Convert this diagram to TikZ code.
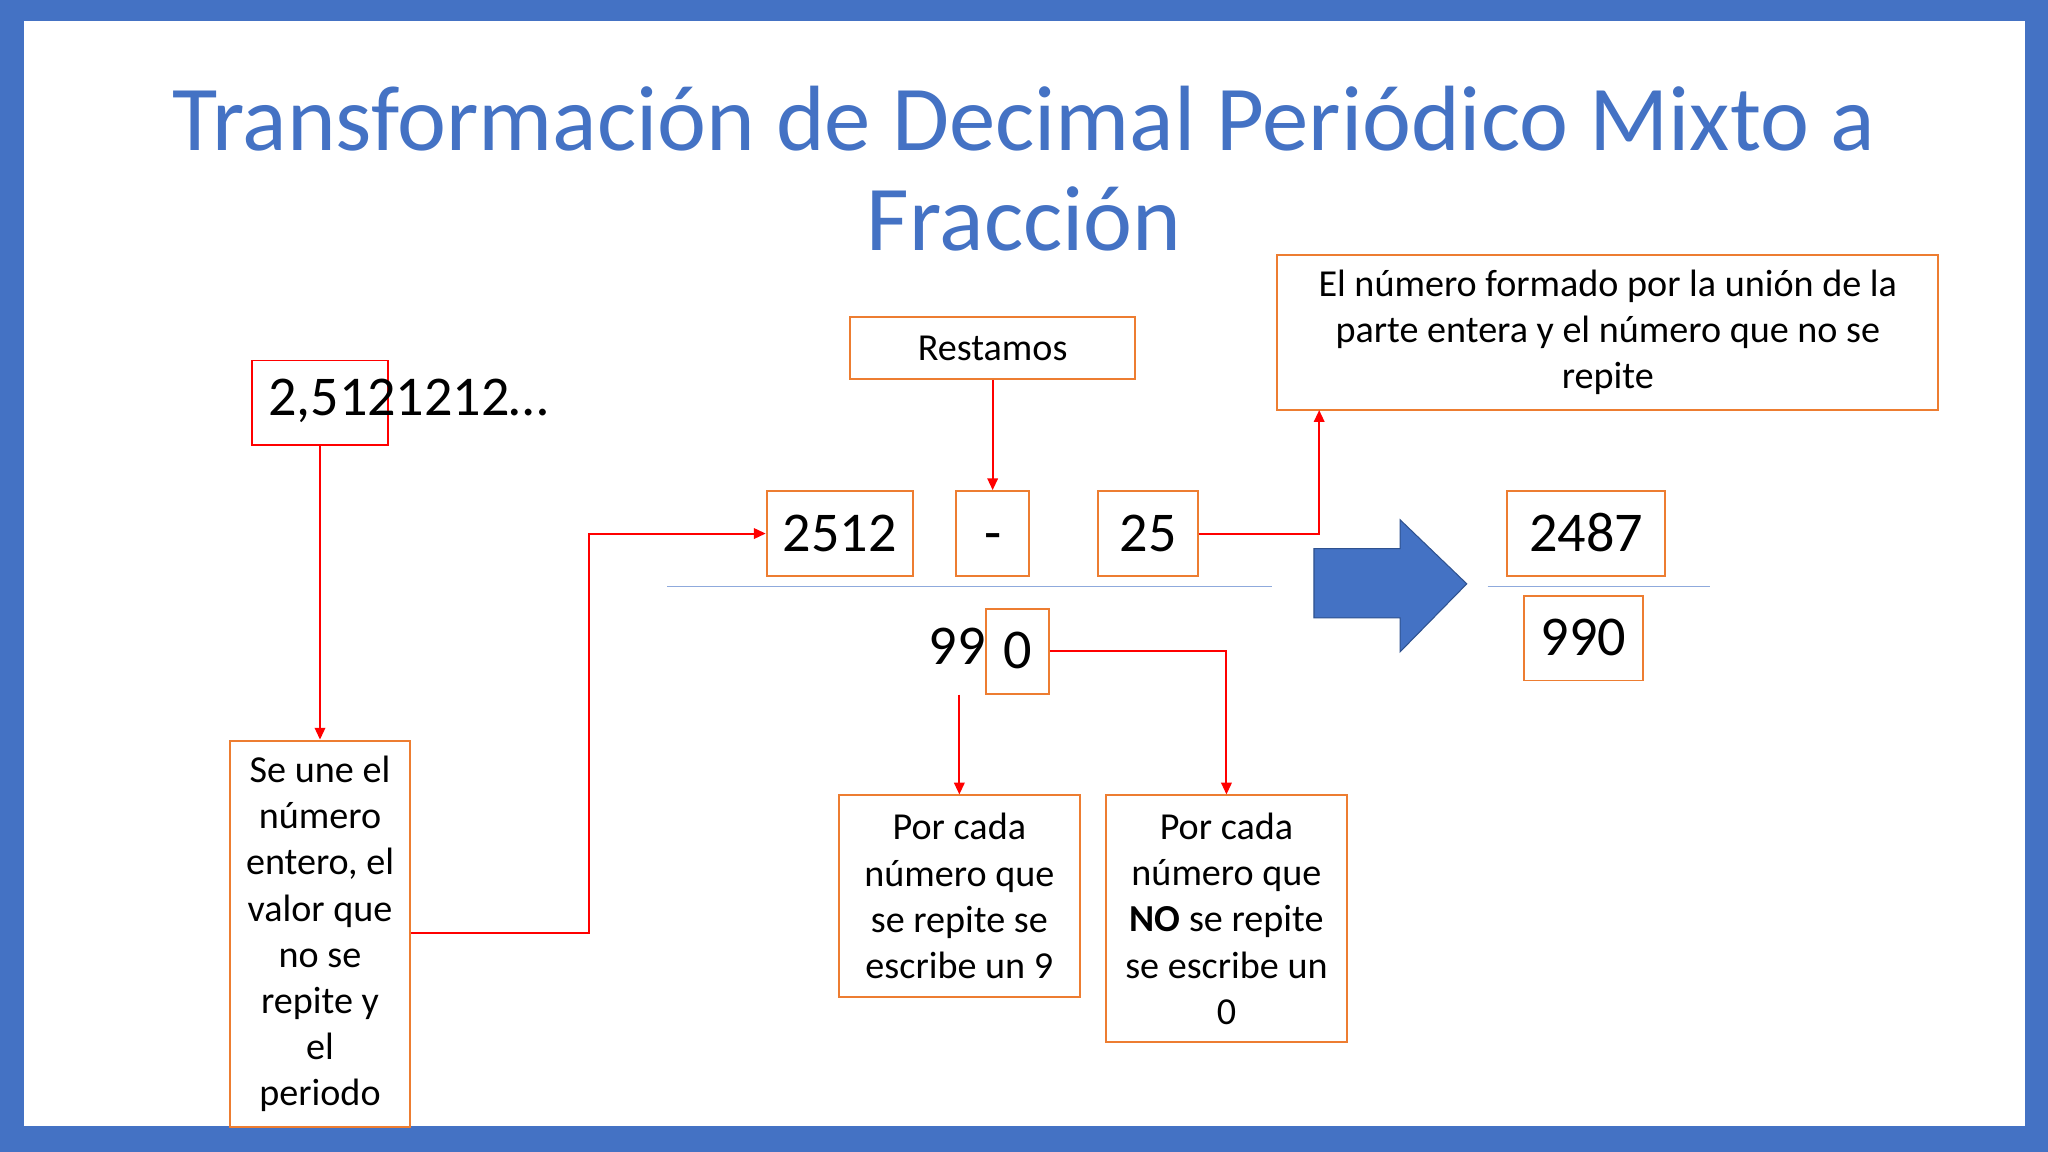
\documentclass[tikz,border=0pt]{standalone}
\usepackage{fontspec}
\setmainfont{Carlito}
\usetikzlibrary{arrows.meta,calc}
\definecolor{frameblue}{HTML}{4472C4}
\definecolor{boxorange}{HTML}{ED7D31}
\definecolor{barblue}{HTML}{8FAADC}
\definecolor{arrowedge}{HTML}{2F528F}
\newcommand{\bodyfont}{\fontsize{29.2}{35.3}\selectfont}
\newcommand{\numfont}{\fontsize{43}{50}\selectfont}
\newcommand{\titlefont}{\fontsize{71}{78}\selectfont}
\begin{document}
\begin{tikzpicture}[x=1pt,y=-1pt,
  box/.style={draw=boxorange,line width=1.5pt,inner sep=0pt,align=center,font=\bodyfont},
  numbox/.style={draw=boxorange,line width=1.5pt,inner sep=0pt,font=\numfont,minimum height=65pt,text height=27pt,text depth=0pt},
  redbox/.style={draw=red,line width=1.5pt,inner sep=0pt},
  link/.style={draw=red,line width=1.5pt,-{Triangle[length=9pt,width=8pt]}},
  bar/.style={draw=barblue,line width=1.3pt},
  titletext/.style={text=frameblue,font=\titlefont,inner sep=0pt}]
\useasboundingbox (0,0) rectangle (1568,882);
\fill[frameblue] (0,0) rectangle (1568,882);
\fill[white] (18,16) rectangle (1550,862);

% title
\node[titletext,anchor=base] (t1) at (784,115) {Transformación de Decimal Periódico Mixto a};
\node[titletext,anchor=base] (t2) at (784,192) {Fracción};

% decimal number
\node[redbox,minimum width=104pt,minimum height=65pt] (dec) at (245,308.5) {};
\node[font=\numfont,anchor=base west,inner sep=0pt] (dectext) at (205,318) {2,5121212…};

% left explanation
\node[box,minimum width=138pt,minimum height=296pt] (seune) at (245,715)
  {Se une el\\número\\entero, el\\valor que\\no se\\repite y\\el\\periodo};

% numerator row
\node[numbox,minimum width=112pt] (n2512) at (643,408.5) {2512};
\node[numbox,minimum width=56pt] (nminus) at (760,408.5) {-};
\node[numbox,minimum width=76pt] (n25) at (879,408.5) {25};
\node[box,minimum width=218pt,minimum height=47pt] (restamos) at (760,266.5) {Restamos};
\node[box,minimum width=506pt,minimum height=119pt] (union) at (1231,254.5)
  {El número formado por la unión de la\\parte entera y el número que no se\\repite};

% fraction bar
\coordinate (barL) at (511,449);
\coordinate (barR) at (974,449);
\draw[bar] (barL) -- (barR);

% denominator
\node[font=\numfont,anchor=base,inner sep=0pt] (n99) at (733,509) {99};
\node[numbox,minimum width=48pt] (n0) at (779,498.5) {0};

\node[box,minimum width=185pt,minimum height=154pt] (nueve) at (734.5,686)
  {Por cada\\número que\\se repite se\\escribe un 9};
\node[box,minimum width=184pt,minimum height=189pt] (cero) at (939,703.5)
  {Por cada\\número que\\\textbf{NO} se repite\\se escribe un\\0};

% connectors
\draw[link] (dec.south) -- (seune.north);
\coordinate (bendA) at (451,714);
\draw[link] (seune.east |- bendA) -- (bendA) |- (n2512.west);
\draw[link] (restamos.south) -- (nminus.north);
\coordinate (unionfoot) at (1010,314);
\draw[link] (n25.east) -| (unionfoot);
\draw[link] (n0.east) -| (cero.north);
\draw[link] (nueve.north |- n0.south) -- (nueve.north);

% block arrow
\filldraw[fill=frameblue,draw=arrowedge,line width=0.8pt]
  (1006,420) -- (1072,420) -- (1072,398) -- (1123,447) -- (1072,499) -- (1072,473) -- (1006,473) -- cycle;

% result fraction
\node[numbox,minimum width=121pt] (n2487) at (1214.5,408.5) {2487};
\coordinate (bar2L) at (1139,449);
\coordinate (bar2R) at (1309,449);
\draw[bar] (bar2L) -- (bar2R);
\node[numbox,minimum width=91pt] (n990) at (1212.5,488.5) {990};
\end{tikzpicture}
\end{document}
